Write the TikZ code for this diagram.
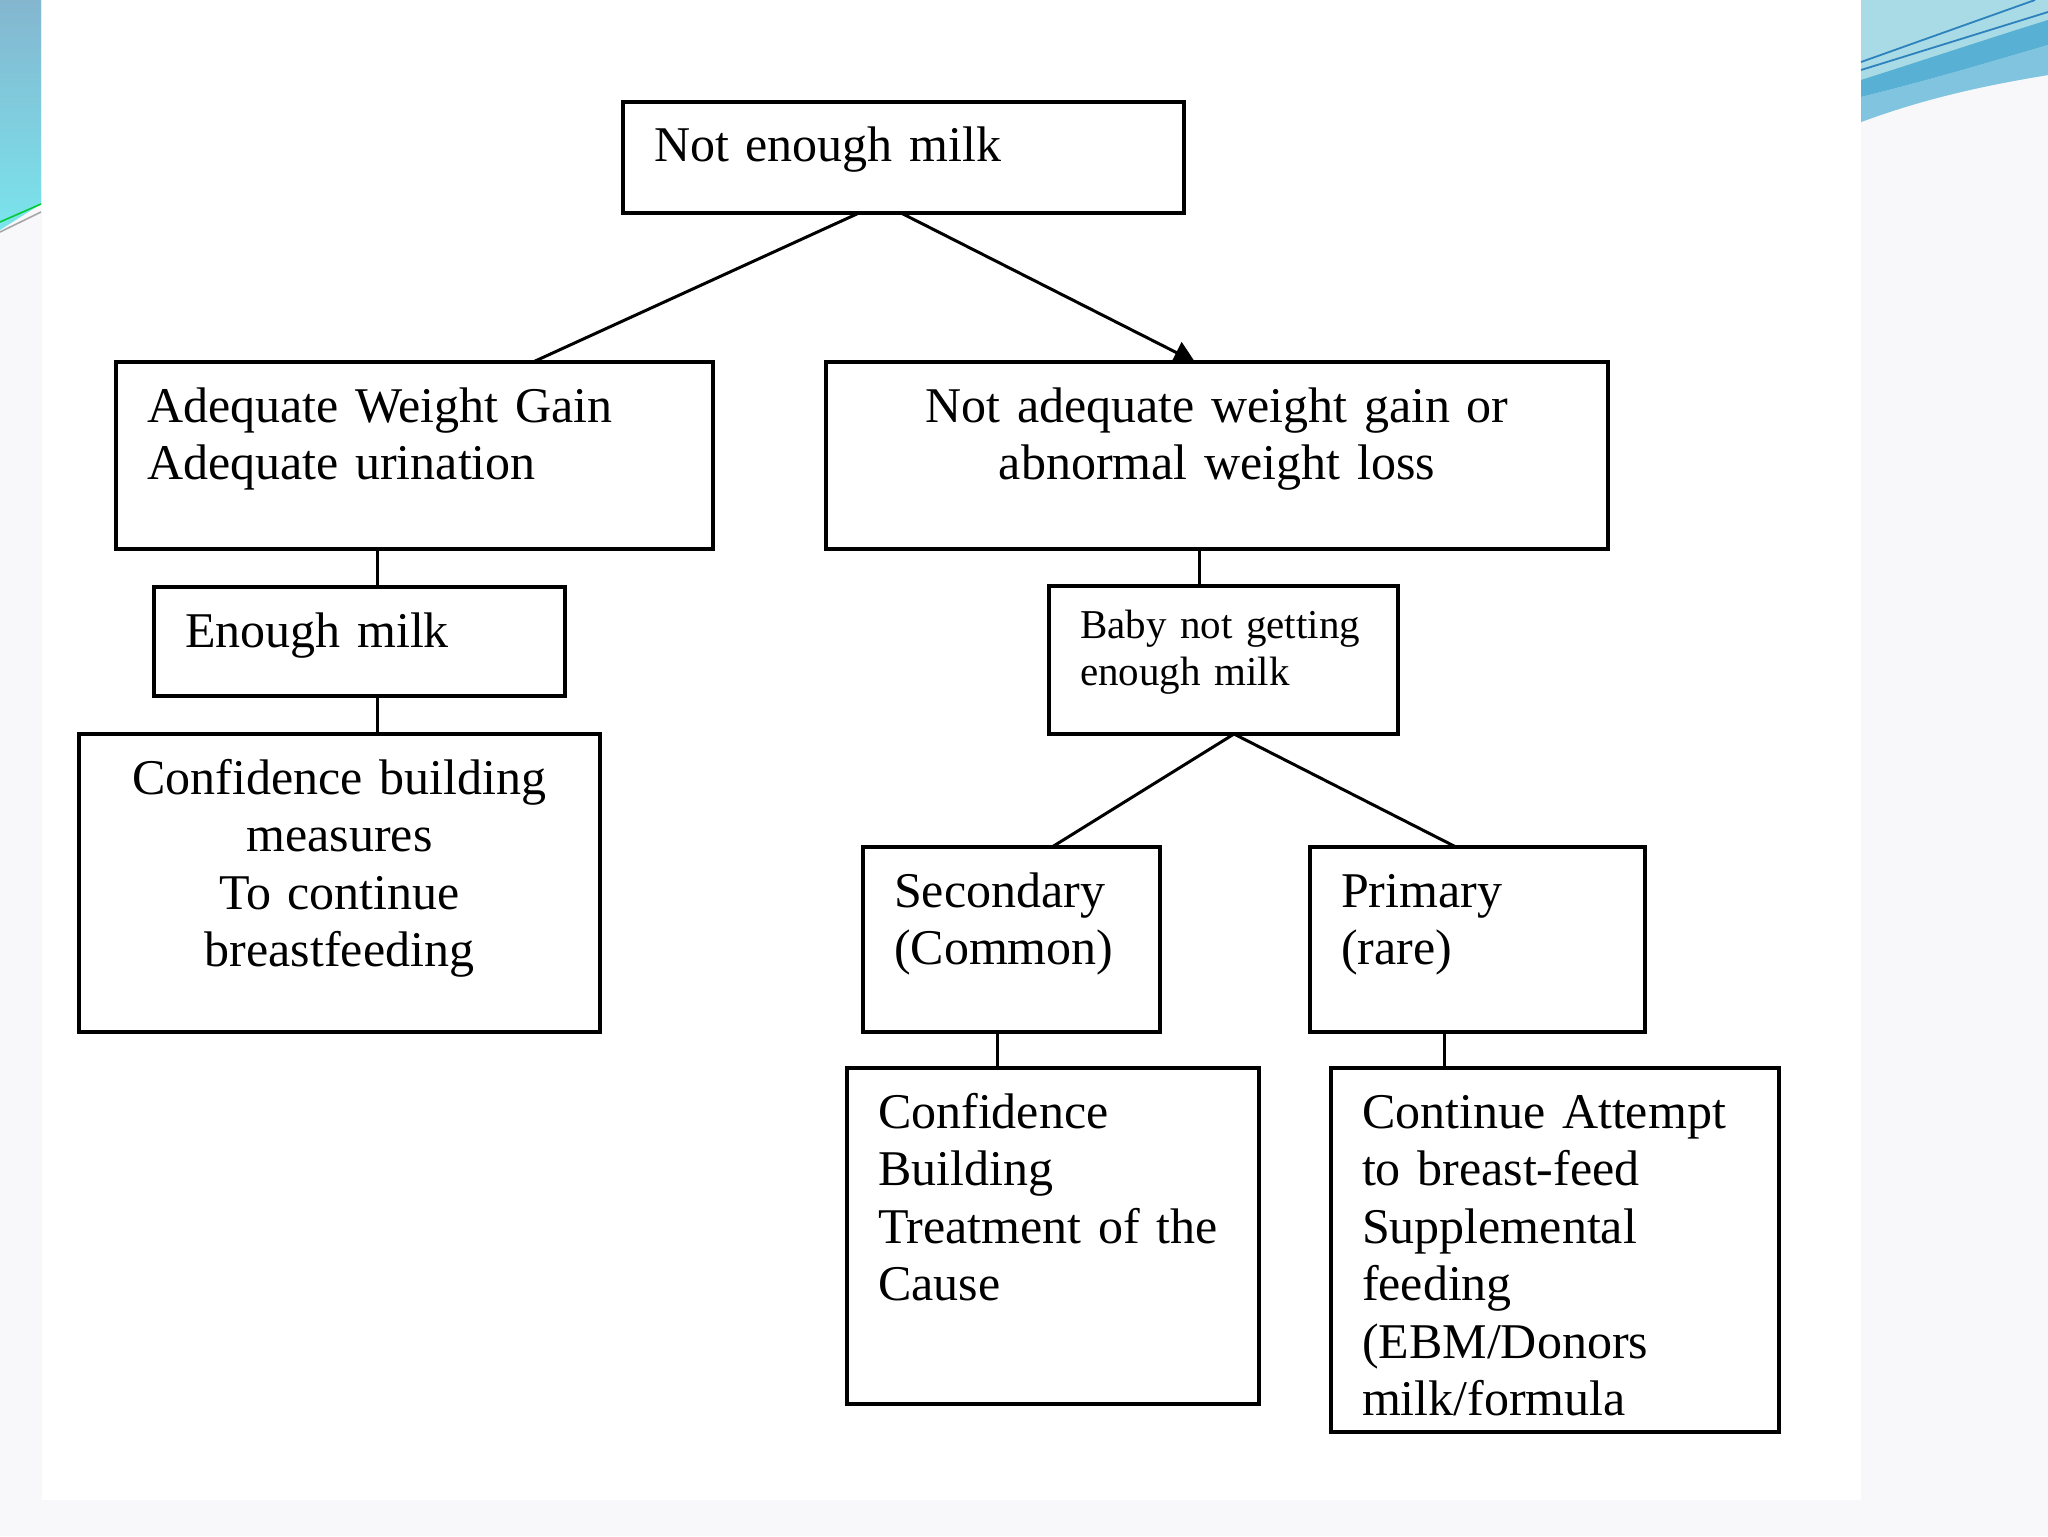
\documentclass[tikz,border=0pt]{standalone}
\usepackage{fontspec}
\setmainfont{Liberation Serif}
\usetikzlibrary{arrows.meta}
\definecolor{slidegray}{RGB}{248,248,250}
\definecolor{tealtop}{RGB}{132,182,208}
\definecolor{tealbottom}{RGB}{122,228,236}
\definecolor{wavepale}{RGB}{168,219,229}
\definecolor{waveband}{RGB}{88,176,212}
\definecolor{wavelow}{RGB}{128,196,224}
\definecolor{waveline}{RGB}{45,130,190}
\newcommand{\boxfont}[2]{\fontsize{#1}{#2}\selectfont\fontdimen2\font=0.19em\relax}
\tikzset{
    box/.style={draw, line width=1.6pt, anchor=north west, outer sep=0pt,
                inner xsep=15.5pt, inner ysep=0pt, text height=30pt,
                align=left, font=\boxfont{25}{28.75}},
    smallbox/.style={box, text height=26pt, font=\boxfont{20.5}{23.5}},
    link/.style={line width=1.5pt},
    flow/.style={link, -{Triangle[length=10.5pt, width=11.5pt]}},
}

\begin{document}
\begin{tikzpicture}[x=0.5pt, y=-0.5pt]
    \useasboundingbox (0,0) rectangle (2048,1536);
    \fill[slidegray] (0,0) rectangle (2048,1536);
    \fill[white] (42,0) rectangle (1861,1500);

    \shade[top color=tealtop, bottom color=tealbottom]
        (0,0) -- (41,0) -- (41,204) -- (0,230) -- cycle;
    \draw[green!60!teal, line width=0.8pt] (0,222) -- (41,204);
    \draw[gray!70, line width=0.8pt] (0,232) -- (41,212);

    \fill[wavepale] (1861,0) -- (2048,0) -- (2048,75)
        .. controls (1980,86) and (1920,100) .. (1861,122) -- cycle;
    \fill[waveband] (1861,80) .. controls (1930,58) and (1990,38) .. (2048,20)
        -- (2048,45) .. controls (1990,62) and (1930,80) .. (1861,97) -- cycle;
    \fill[wavelow] (1861,97) .. controls (1930,80) and (1990,62) .. (2048,45)
        -- (2048,75) .. controls (1980,86) and (1920,100) .. (1861,122) -- cycle;
    \draw[waveline, line width=0.9pt] (1861,62) -- (2035,0);
    \draw[waveline, line width=0.9pt] (1861,70) -- (2048,12);

    \node[box, text width=249.5pt, text depth=25.5pt] (notenough) at (623,102) {Not enough milk};
    \node[box, text width=267.5pt, text depth=63.5pt] (adequate) at (116,362)
        {Adequate Weight Gain\\Adequate urination};
    \node[box, text width=360pt, text depth=63.5pt, align=center] (inadequate) at (826,362)
        {Not adequate weight gain or\\abnormal weight loss};
    \node[box, text width=174.5pt, text depth=24.5pt] (enoughmilk) at (154,587) {Enough milk};
    \node[box, text width=229.5pt, text depth=119pt, align=center] (confidence) at (79,734)
        {Confidence building\\measures\\To continue\\breastfeeding};
    \node[smallbox, text width=143.5pt, text depth=48pt] (notgetting) at (1049,586)
        {Baby not getting\\enough milk};
    \node[box, text width=117.5pt, text depth=62.5pt] (secondary) at (863,847)
        {Secondary\\(Common)};
    \node[box, text width=136.5pt, text depth=62.5pt] (primary) at (1310,847)
        {Primary\\(rare)};
    \node[box, text width=175pt, text depth=138pt] (treatment) at (847,1068)
        {Confidence\\Building\\Treatment of the\\Cause};
    \node[box, text width=193pt, text depth=152pt] (supplement) at (1331,1068)
        {Continue Attempt\\to breast-feed\\Supplemental\\feeding\\(EBM/Donors\\milk/formula};

    \draw[link] ([xshift=-22.25pt]notenough.south) -- ([xshift=59.25pt]adequate.north);
    \draw[flow] ([xshift=-1.25pt]notenough.south) -- ([xshift=-11pt]inadequate.north);
    \draw[link] ([xshift=-18.75pt]adequate.south) -- ([xshift=8.75pt]enoughmilk.north);
    \draw[link] ([xshift=8.75pt]enoughmilk.south) -- ([xshift=18.75pt]confidence.north);
    \draw[link] ([xshift=-9pt]inadequate.south) -- ([xshift=-12.25pt]notgetting.north);
    \draw[link] ([xshift=5.25pt]notgetting.south) -- ([xshift=20.25pt]secondary.north);
    \draw[link] ([xshift=5.25pt]notgetting.south) -- ([xshift=-10.75pt]primary.north);
    \draw[link] ([xshift=-7.25pt]secondary.south) -- ([xshift=-28pt]treatment.north);
    \draw[link] ([xshift=-16.75pt]primary.south) -- ([xshift=-55.5pt]supplement.north);
\end{tikzpicture}
\end{document}
